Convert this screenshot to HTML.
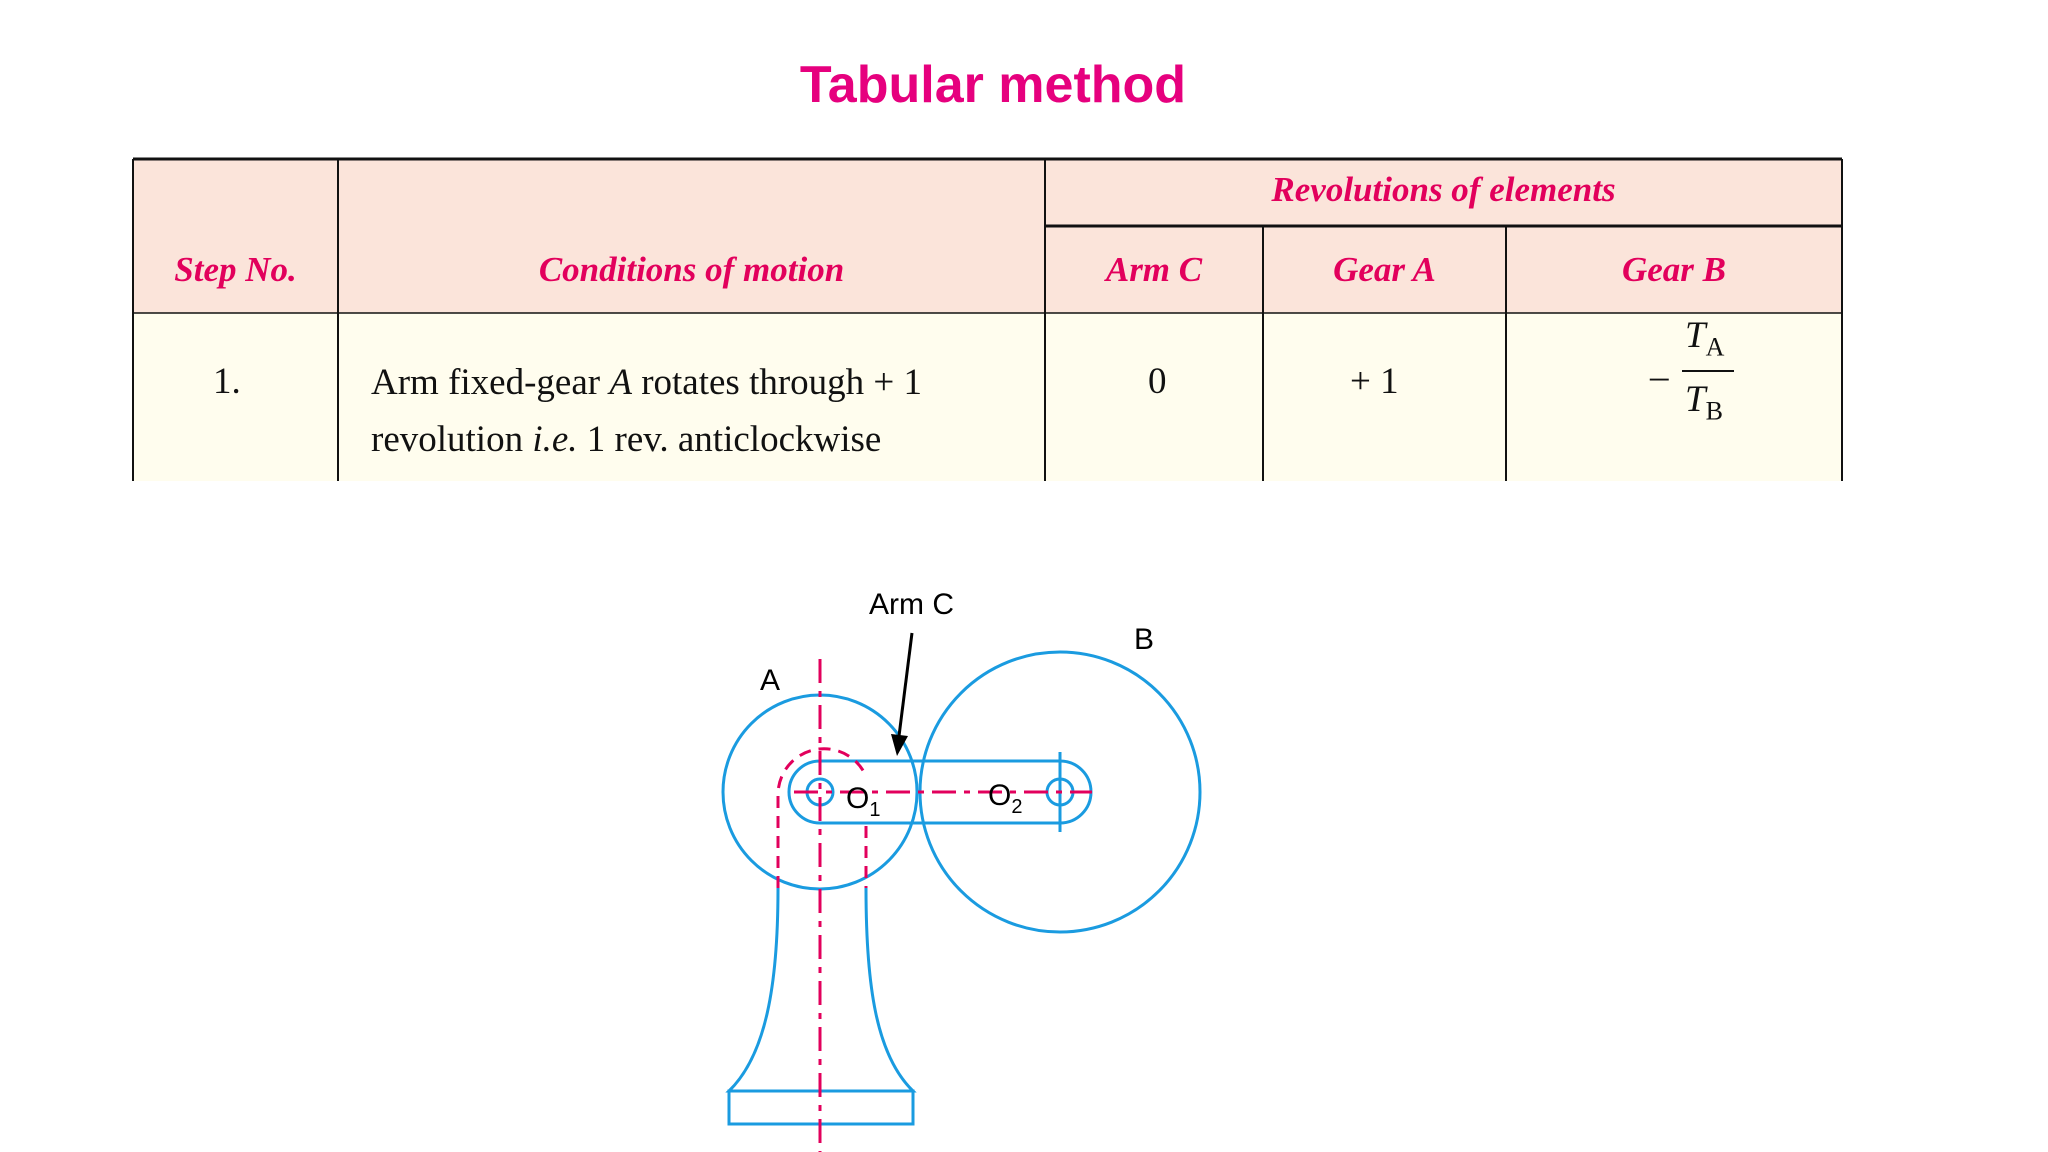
<!DOCTYPE html>
<html><head><meta charset="utf-8"><style>
body{margin:0;width:2048px;height:1152px;background:#fff;position:relative;overflow:hidden;font-family:"Liberation Serif",serif}
.t{position:absolute;left:0;width:1986px;top:55px;text-align:center;font:bold 52px "Liberation Sans",sans-serif;color:#e6007e}
.h{position:absolute;color:#e2005c;font-style:italic;font-weight:bold;font-size:35px;text-align:center}
.b{position:absolute;color:#111;font-size:37px}
</style></head><body>
<div class="t">Tabular method</div>
<svg width="2048" height="1152" style="position:absolute;left:0;top:0">
<rect x="133" y="159" width="1709" height="154" fill="#fbe4da"/>
<rect x="133" y="313" width="1709" height="168" fill="#fffdee"/>
<g stroke="#111" fill="none">
<line x1="133" y1="159" x2="1842" y2="159" stroke-width="3"/>
<line x1="1045" y1="226" x2="1842" y2="226" stroke-width="3"/>
<line x1="133" y1="313" x2="1842" y2="313" stroke-width="1.5"/>
<g stroke-width="2"><line x1="133" y1="159" x2="133" y2="481"/><line x1="338" y1="159" x2="338" y2="481"/><line x1="1045" y1="159" x2="1045" y2="481"/><line x1="1263" y1="226" x2="1263" y2="481"/><line x1="1506" y1="226" x2="1506" y2="481"/><line x1="1842" y1="159" x2="1842" y2="481"/></g>
</g>
<g stroke="#1a9be0" stroke-width="3" fill="none">
<circle cx="820" cy="792" r="97"/>
<circle cx="1060" cy="792" r="140"/>
<path d="M820 761 H1060 A31 31 0 0 1 1060 823 H820 A31 31 0 0 1 820 761 Z"/>
<circle cx="820" cy="792" r="13"/><circle cx="1060" cy="792" r="13"/>
<line x1="1060" y1="752" x2="1060" y2="832"/>
<path d="M778 888 C778 985 766 1055 729 1091 H913 C876 1055 866 985 866 888"/>
<rect x="729" y="1091" width="184" height="33"/>
</g>
<g stroke="#e2005c" stroke-width="3" fill="none">
<path d="M778 888 V796 A46 46 0 0 1 866 776" stroke-dasharray="12 8"/>
<line x1="866" y1="826" x2="866" y2="888" stroke-dasharray="12 8"/>
<line x1="794" y1="792" x2="1092" y2="792" stroke-dasharray="24 8 6 8"/>
<line x1="820" y1="659" x2="820" y2="1152" stroke-dasharray="24 8 6 8"/>
</g>
<line x1="912" y1="633" x2="899" y2="736" stroke="#000" stroke-width="3"/>
<polygon points="891,734 908,736 897,756" fill="#000"/>
<g font-family="Liberation Sans,sans-serif" font-size="30" fill="#000">
<text x="869" y="614">Arm C</text><text x="1134" y="649">B</text><text x="760" y="690">A</text>
<text x="846" y="808">O<tspan font-size="20" dy="8">1</tspan></text>
<text x="988" y="805">O<tspan font-size="20" dy="8">2</tspan></text>
</g>
</svg>
<div class="h" style="left:1045px;width:797px;top:170px">Revolutions of elements</div>
<div class="h" style="left:133px;width:205px;top:250px">Step No.</div>
<div class="h" style="left:338px;width:707px;top:250px">Conditions of motion</div>
<div class="h" style="left:1045px;width:218px;top:250px">Arm C</div>
<div class="h" style="left:1263px;width:243px;top:250px">Gear A</div>
<div class="h" style="left:1506px;width:336px;top:250px">Gear B</div>
<div class="b" style="left:213px;top:360px">1.</div>
<div class="b" style="left:371px;top:354px;line-height:57px">Arm fixed-gear <i>A</i> rotates through + 1<br>revolution <i>i.e.</i> 1 rev. anticlockwise</div>
<div class="b" style="left:1148px;top:360px">0</div>
<div class="b" style="left:1350px;top:360px">+ 1</div>
<div class="b" style="left:1650px;top:355px">–</div>
<div class="b" style="left:1685px;top:314px;font-style:italic">T<sub style="font-size:26px;font-style:normal">A</sub></div>
<div style="position:absolute;left:1682px;top:370px;width:52px;border-top:2px solid #111"></div>
<div class="b" style="left:1685px;top:378px;font-style:italic">T<sub style="font-size:26px;font-style:normal">B</sub></div>
</body></html>
